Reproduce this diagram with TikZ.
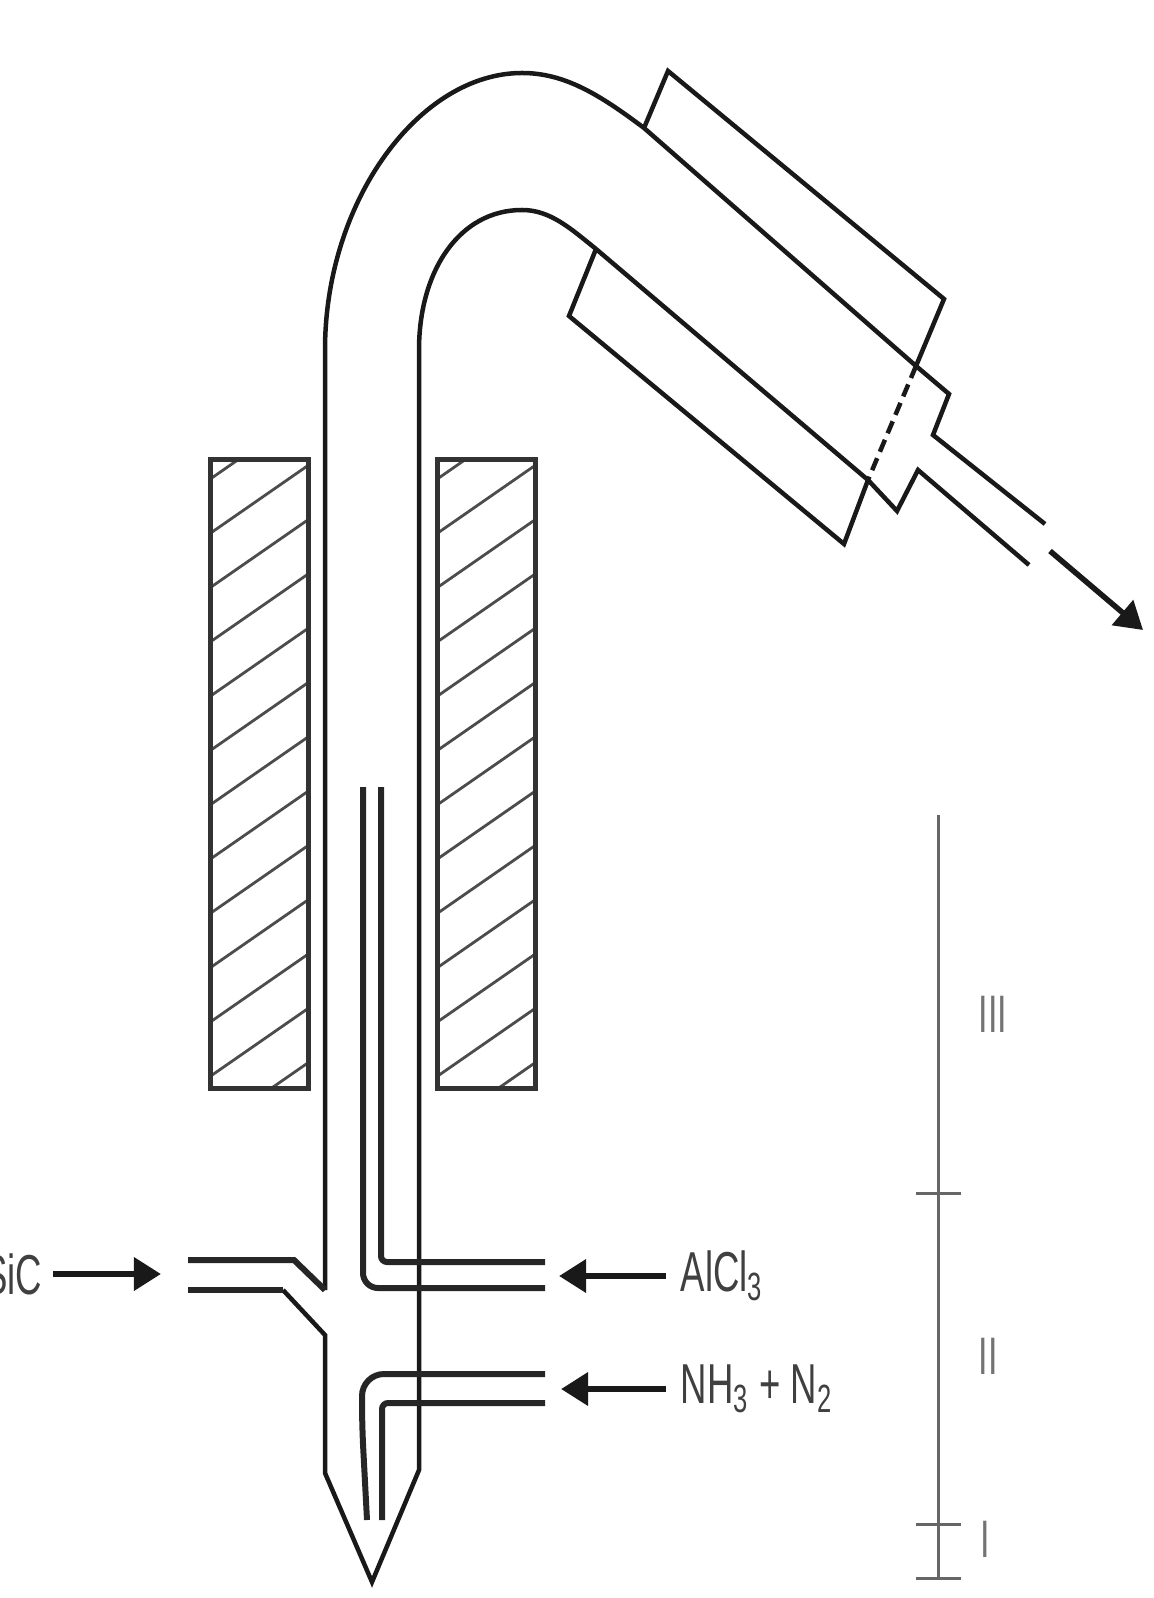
\documentclass[tikz,border=0pt]{standalone}
\usepackage{fontspec}
\setmainfont{Liberation Sans}
\usetikzlibrary{arrows.meta}
\newcommand{\narrowtext}[1]{\scalebox{0.65}[1]{#1}}
\tikzset{
  wall/.style={black!90, line width=0.045cm},
  inlet/.style={black!85, line width=0.06cm, rounded corners=0.06cm},
  oven/.style={black!80, line width=0.05cm},
  hatchline/.style={black!70, line width=0.028cm},
  flow/.style={black!90, line width=0.065cm, -{Triangle[length=0.27cm,width=0.32cm]}},
  ruler/.style={black!60, line width=0.03cm},
  lbl/.style={font=\fontsize{16}{18}\selectfont, text=black!75, inner sep=0.14cm},
  zone/.style={font=\fontsize{15}{18}\selectfont, text=black!55, inner sep=0pt}
}
\begin{document}
\begin{tikzpicture}[x=0.01cm, y=-0.01cm]
  \useasboundingbox (0,0) rectangle (1153,1598);
  % furnace
  \foreach \bx in {210,437}{
    \begin{scope}
      \clip (\bx,460) rectangle (\bx+98,1088);
      \foreach \k in {-1,...,11}
        \draw[hatchline] (\bx,{533.5+54.3*\k}) -- (\bx+98,{465.5+54.3*\k});
    \end{scope}
    \draw[oven] (\bx,460) rectangle (\bx+98,1088);
  }
  % main tube
  \draw[wall] (325,1290) -- (325,350) .. controls (325,200) and (420,73) .. (522,73) .. controls (565,73) and (600,95) .. (644,128) -- (916,366) -- (949,394) -- (933,435) -- (1045,524);
  \draw[wall] (1029,565) -- (918,470) -- (897,511) -- (868,480) -- (596,249) .. controls (570,228) and (550,210) .. (522,210) .. controls (460,210) and (419,270) .. (419,350) -- (419,1470) -- (372,1582) -- (325,1473) -- (325,1335) -- (283,1290);
  \draw[wall] (644,128) -- (668,71) -- (944,299) -- (916,366);
  \draw[wall] (596,249) -- (569,316) -- (844,544) -- (868,480);
  \draw[wall, dash pattern=on 0.13cm off 0.07cm] (916,366) -- (868,480);
  % inlets
  \draw[inlet, rounded corners=0pt] (188,1260) -- (294,1260) -- (325,1290);
  \draw[inlet, rounded corners=0pt] (188,1290) -- (283,1290);
  \draw[inlet] (381,787) -- (381,1262) -- (545,1262);
  \draw[inlet, rounded corners=0.15cm] (363,787) -- (363,1288) -- (545,1288);
  \draw[inlet, rounded corners=0.22cm] (545,1374) -- (362,1374) -- (362,1425) -- (367,1520);
  \draw[inlet] (545,1403) -- (382,1403) -- (382,1520);
  % gas labels and arrows
  \node[lbl, anchor=east, inner sep=0.1cm] (sic) at (53,1274) {\narrowtext{SiC}};
  \node[lbl, anchor=west] (alcl) at (666,1276) {\narrowtext{AlCl\textsubscript{3}}};
  \node[lbl, anchor=west] (nhn) at (666,1389) {\narrowtext{NH\textsubscript{3} + N\textsubscript{2}}};
  \coordinate (sicend) at (161,1274);
  \coordinate (alclend) at (559,1276);
  \coordinate (nhnend) at (561,1389);
  \draw[flow] (sic.east) -- (sicend);
  \draw[flow] (alcl.west) -- (alclend);
  \draw[flow] (nhn.west) -- (nhnend);
  \coordinate (outstart) at (1050,551);
  \coordinate (outend) at (1143,630);
  \draw[flow, line width=0.055cm] (outstart) -- (outend);
  % zones
  \coordinate (rulertop) at (938,815);
  \coordinate (rulerbot) at (938,1580);
  \draw[ruler] (rulertop) -- (rulerbot);
  \foreach \ty in {1193,1524,1578}
    \draw[ruler] (916,\ty) -- (961,\ty);
  \node[zone] (zonethree) at (993,1014) {\narrowtext{III}};
  \node[zone] (zonetwo) at (988,1356) {\narrowtext{II}};
  \node[zone] (zoneone) at (985,1539) {\narrowtext{I}};
\end{tikzpicture}
\end{document}
